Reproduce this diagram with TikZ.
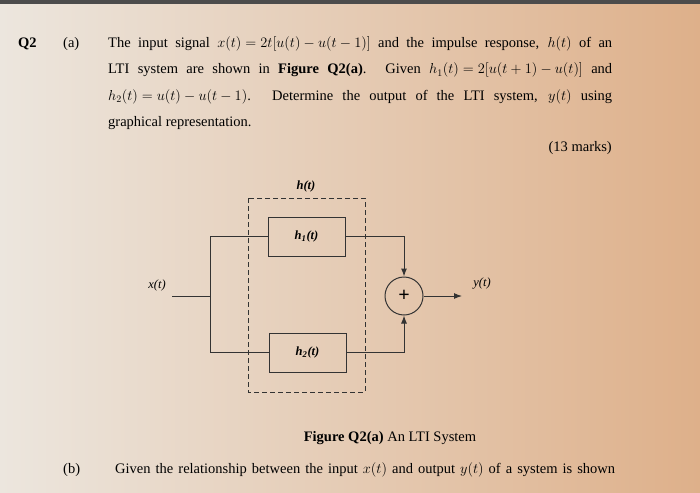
\documentclass[tikz,border=0pt]{standalone}
\usepackage{fontspec}
\setmainfont{Liberation Serif}
\usetikzlibrary{arrows.meta}
\newcommand{\mm}[1]{\mbox{$#1$}}
\begin{document}
\begin{tikzpicture}[x=1pt,y=-1pt,
  txt/.style={anchor=base west,inner sep=0pt,font=\fontsize{14.5}{16}\selectfont},
  blk/.style={draw=black!80,line width=1pt,minimum width=77pt,minimum height=39pt,inner sep=0pt,font=\fontsize{12.5}{14}\selectfont\itshape\bfseries},
  wire/.style={draw=black!80,line width=1pt},
  arr/.style={wire,-{Latex[length=8pt,width=6pt]}}]
\useasboundingbox (0,0) rectangle (700,492);
\shade[left color={rgb,255:red,236;green,230;blue,222},right color={rgb,255:red,222;green,176;blue,138}] (0,0) rectangle (700,492);
\fill[black!70] (0,0) rectangle (700,4);
% header text
\node[txt,font=\fontsize{14.5}{16}\selectfont\bfseries] (q2) at (18,48) {Q2};
\node[txt] (pa) at (63,48) {(a)};
\node[txt] (l1) at (108,48) {\hbox to 504pt{The input signal \mm{x(t)=2t[u(t)-u(t-1)]} and the impulse response, \mm{h(t)} of an}};
\node[txt] (l2) at (108,74) {\hbox to 504pt{LTI system are shown in \textbf{Figure Q2(a)}. Given \mm{h_1(t)=2[u(t+1)-u(t)]} and}};
\node[txt] (l3) at (108,100) {\hbox to 504pt{\mm{h_2(t)=u(t)-u(t-1)}. Determine the output of the LTI system, \mm{y(t)} using}};
\node[txt] (l4) at (108,126) {graphical representation.};
\node[txt,anchor=base east] (mk) at (612,151) {(13 marks)};
% diagram
\draw[wire,dashed,dash pattern=on 5pt off 3pt] (248,198) rectangle (365,392);
\node[font=\fontsize{12.5}{14}\selectfont\itshape\bfseries] (ht) at (306,186) {h(t)};
\node[blk] (h1) at (306.5,236.5) {h\textsubscript{1}(t)};
\node[blk] (h2) at (307.5,352.5) {h\textsubscript{2}(t)};
\node[draw=black!80,line width=1pt,circle,minimum size=38pt,inner sep=0pt,font=\fontsize{20}{22}\selectfont\bfseries] (sum) at (404,296) {+};
\coordinate (in) at (172,296);
\coordinate (sp) at (210,296);
\coordinate (out) at (462,296);
\node[font=\fontsize{12.5}{14}\selectfont\itshape] (xt) at (157,285) {x(t)};
\node[font=\fontsize{12.5}{14}\selectfont\itshape] (yt) at (482,284) {y(t)};
\draw[wire] (in) -- (sp);
\draw[wire] (sp) |- (h1.west);
\draw[wire] (sp) |- (h2.west);
\draw[arr] (h1.east) -| (sum.north);
\draw[arr] (h2.east) -| (sum.south);
\draw[arr] (sum.east) -- (out);
% caption
\node[font=\fontsize{14.5}{16}\selectfont] (cap) at (390,438) {\textbf{Figure Q2(a)} An LTI System};
\node[txt] (pb) at (63,473) {(b)};
\node[txt] (lb) at (115,473) {\hbox to 500pt{Given the relationship between the input \mm{x(t)} and output \mm{y(t)} of a system is shown}};
\end{tikzpicture}
\end{document}
